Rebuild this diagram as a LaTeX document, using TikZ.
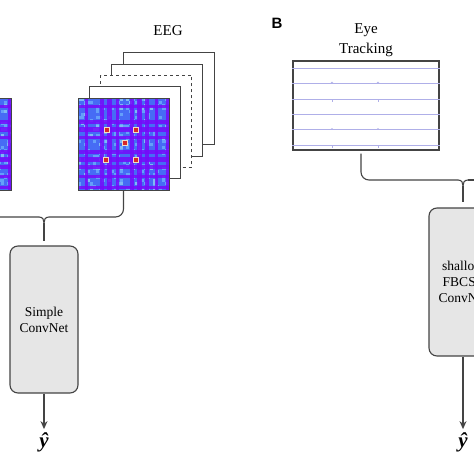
\documentclass[tikz,border=0pt]{standalone}
\usepackage{fontspec}
\setmainfont{Liberation Serif}
\newfontfamily\labelsans{Liberation Sans}
\usetikzlibrary{arrows.meta,calc}

\definecolor{hmblue}{RGB}{70,108,245}
\definecolor{hmlight}{RGB}{100,160,250}
\definecolor{hmcyan}{RGB}{150,220,245}
\definecolor{hmpurple}{RGB}{118,10,250}
\definecolor{hmred}{RGB}{215,40,40}
\definecolor{hmring}{RGB}{240,220,200}
\definecolor{boxgray}{RGB}{230,230,230}
\definecolor{edgegray}{RGB}{68,68,68}
\definecolor{tracecol}{RGB}{175,175,232}

\tikzset{
  netbox/.style={draw=edgegray, fill=boxgray, line width=1.1pt, rounded corners=8pt,
    minimum width=68pt, minimum height=147pt, align=center,
    font=\fontsize{13.5}{16}\selectfont, inner sep=0pt},
  link/.style={draw=edgegray, line width=1.1pt},
  outarrow/.style={link, -{Stealth[length=8pt,width=7pt]}},
  stackframe/.style={draw=edgegray, fill=white, line width=1.1pt},
  matframe/.style={draw=edgegray, line width=1pt, minimum width=91pt, minimum height=92pt, inner sep=0pt},
  toplabel/.style={font=\fontsize{15}{20}\selectfont, align=center},
  yhat/.style={font=\fontsize{21}{21}\selectfont\bfseries\itshape, inner sep=0pt},
}

% heat map of a connectivity matrix, 91 x 92 from the current origin
\newcommand\heatmap[1]{%
  \begin{scope}
    \clip (0,0) rectangle (91,92);
    \fill[hmblue] (0,0) rectangle (91,92);
    \pgfmathsetseed{#1}
    \foreach \i in {0,...,30} {
      \foreach \j in {0,...,30} {
        \pgfmathrandominteger{\r}{0}{15}
        \ifnum\r<3 \fill[hmlight] (\i*3,\j*3) rectangle ++(3,3);\fi
        \ifnum\r=3 \fill[hmcyan, opacity=.7] (\i*3,\j*3) rectangle ++(3,3);\fi
      }
    }
    % purple stripes
    \foreach \p/\w in {7/3, 22/4, 29/5, 38/3, 52/4, 59/5, 67/4, 77/3, 88/3} {
      \fill[hmpurple, opacity=.85] (\p,0) rectangle ++(\w,92);
      \fill[hmpurple, opacity=.85] (0,\p) rectangle ++(91,\w);
    }
    % red spots
    \foreach \a/\b in {29/32, 58/32, 28/62, 58/62, 47/45} {
      \fill[hmring] (\a-3,\b-3) rectangle ++(6,6);
      \fill[hmred] (\a-2,\b-2) rectangle ++(4,4);
    }
  \end{scope}
}

\begin{document}
\begin{tikzpicture}[x=1pt, y=-1pt]
  \useasboundingbox (0,0) rectangle (474,474);
  \clip (0,0) rectangle (474,474);

  % EEG stack
  \foreach \s in {4,3,2,1} {
    \ifnum\s=2
      \draw[stackframe, dashed] (78+11.3*\s,98-11.3*\s) rectangle ++(91,92);
    \else
      \draw[stackframe] (78+11.3*\s,98-11.3*\s) rectangle ++(91,92);
    \fi
  }
  \begin{scope}[shift={(78,98)}]
    \heatmap{7}
  \end{scope}
  \node[matframe] (eegmat) at (123.5,144) {};
  \begin{scope}[shift={(-80,98)}]
    \heatmap{3}
  \end{scope}
  \node[matframe] (leftmat) at (-34.5,144) {};
  \node[toplabel] (eeglabel) at (168,31) {EEG};

  % Eye tracking
  \node[font=\labelsans\bfseries\fontsize{15}{18}\selectfont] (panelB) at (277,23) {B};
  \node[toplabel] (eyelabel) at (366,40) {Eye\\Tracking};
  \node[draw=edgegray, line width=1.1pt, minimum width=146pt, minimum height=89pt] (eye) at (366,105.5) {};
  \foreach \t in {68.5,83.5,99.5,114.5,129.5,145.5} {
    \draw[tracecol, line width=1pt] (eye.west |- 0,\t) -- (eye.east |- 0,\t);
  }
  \foreach \x in {332,378} {
    \draw[tracecol, line width=.7pt] (\x-1.5,83.5) -- (\x,82) -- (\x+1.5,83.5);
    \draw[tracecol, line width=.7pt] (\x,99.5) -- (\x,102);
    \draw[tracecol, line width=.5pt] (\x-1.5,129.5) -- (\x,128.5) -- (\x+1.5,129.5);
    \draw[tracecol, line width=.7pt] (\x,145.5) -- (\x,147.5);
  }

  % Networks
  \node[netbox] (simple) at (44,319.5) {Simple\\ConvNet};
  \node[netbox, minimum height=148pt] (fbcsp) at (463,282) {shallow\\FBCSP\\ConvNet};
  \node[yhat] (yhatA) at (44,442) {ŷ};
  \node[yhat] (yhatB) at (463,442) {ŷ};
  \draw[outarrow] (simple.south) -- ($(yhatA.north)+(0,-3)$);
  \draw[outarrow] (fbcsp.south) -- ($(yhatB.north)+(0,-3)$);

  % Braces
  \coordinate (tipA) at (44,223);
  \draw[link, rounded corners=8pt] (eegmat.south) |- ($(tipA)+(5,-6)$);
  \draw[link, rounded corners=8pt] (leftmat.south) |- ($(tipA)+(-5,-6)$);
  \draw[link] ($(tipA)+(5,-6)$) .. controls +(-4,0) and +(0,-3) .. (tipA)
    .. controls +(0,-3) and +(4,0) .. ($(tipA)+(-5,-6)$);
  \draw[link] (tipA) -- ($(simple.north)+(0,-4)$);

  \coordinate (tipB) at (463,186);
  \draw[link, rounded corners=8pt] ($(eye.south)+(-5,3)$) |- ($(tipB)+(-5,-6)$);
  \draw[link] ($(tipB)+(5,-6)$) -- ++(20,0);
  \draw[link] ($(tipB)+(-5,-6)$) .. controls +(4,0) and +(0,-3) .. (tipB)
    .. controls +(0,-3) and +(-4,0) .. ($(tipB)+(5,-6)$);
  \draw[link] (tipB) -- ($(fbcsp.north)+(0,-5)$);
\end{tikzpicture}
\end{document}
